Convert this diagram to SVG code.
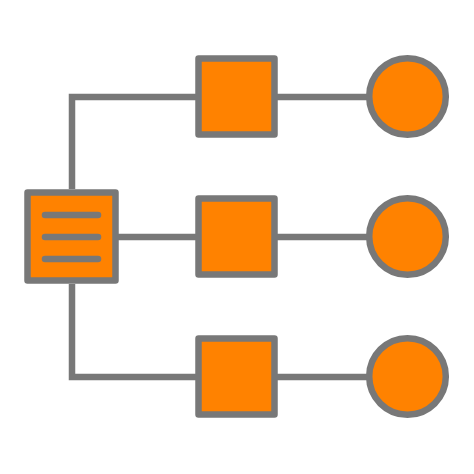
<svg xmlns="http://www.w3.org/2000/svg" width="474" height="474" viewBox="0 0 474 474">
<style>
.n{fill:#FF8200;stroke:#787878;stroke-width:6.5;stroke-linejoin:round}
.c{fill:none;stroke:#787878;stroke-width:6.5;stroke-linecap:butt;stroke-linejoin:miter}
.l{stroke:#787878;stroke-width:6.5;stroke-linecap:round}
</style>
<rect width="474" height="474" fill="#FFFFFF"/>
<g id="connectors">
<path class="c" d="M72 189 V97 H198"/>
<path class="c" d="M72 284 V377 H198"/>
<path class="c" d="M116 237 H198"/>
<path class="c" d="M275 97 H369"/>
<path class="c" d="M275 237 H369"/>
<path class="c" d="M275 377 H369"/>
</g>
<g id="list">
<rect class="n" x="27.5" y="192.5" width="88" height="88"/>
<line class="l" x1="45" y1="215" x2="98" y2="215"/>
<line class="l" x1="45" y1="237" x2="98" y2="237"/>
<line class="l" x1="45" y1="259" x2="98" y2="259"/>
</g>
<g id="square1"><rect class="n" x="198.5" y="58.5" width="76" height="76"/></g>
<g id="square2"><rect class="n" x="198.5" y="198.5" width="76" height="76"/></g>
<g id="square3"><rect class="n" x="198.5" y="338.5" width="76" height="76"/></g>
<g id="circle1"><circle class="n" cx="407.5" cy="96.5" r="38.3"/></g>
<g id="circle2"><circle class="n" cx="407.5" cy="236.5" r="38.3"/></g>
<g id="circle3"><circle class="n" cx="407.5" cy="376.5" r="38.3"/></g>
</svg>
